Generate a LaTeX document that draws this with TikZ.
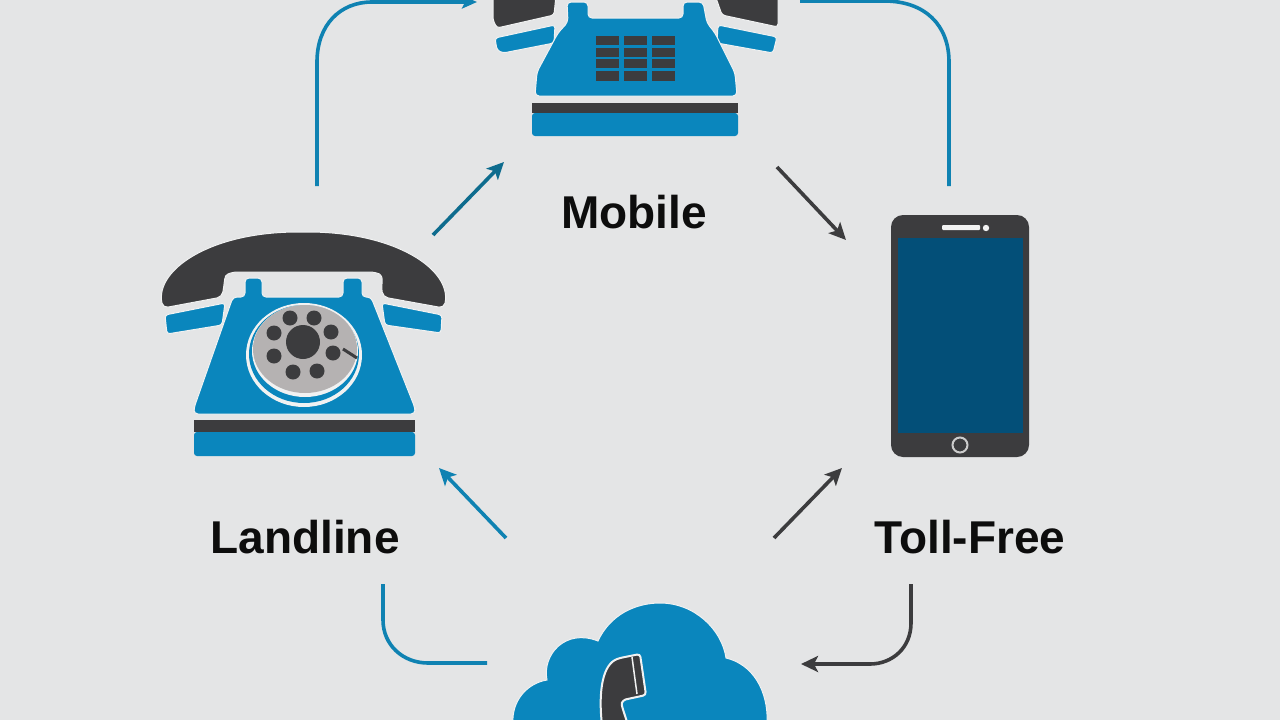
\documentclass[tikz,border=0pt]{standalone}
\usepackage{fontspec}
\setmainfont{Liberation Sans}
\usetikzlibrary{positioning}
\usetikzlibrary{arrows.meta}
\definecolor{bgrey}{HTML}{E4E5E6}
\definecolor{halo}{HTML}{F1F2F2}
\definecolor{phoneblue}{HTML}{0A86BD}
\definecolor{darkgrey}{HTML}{3C3C3E}
\definecolor{screenblue}{HTML}{034F78}
\definecolor{dialgrey}{HTML}{B5B2B2}
\definecolor{linkblue}{HTML}{0F82B2}
\definecolor{linkteal}{HTML}{0E6C8E}

\begin{document}
\begin{tikzpicture}[
    x=1pt, y=-1pt,
    labeltext/.style={font=\fontsize{46}{46}\selectfont\bfseries, text=black!95, inner sep=0pt},
    link/.style={line width=3.6pt, color=linkblue},
    arrowlink/.style={line width=3.6pt, -{Stealth[length=17pt,width=16pt,inset=4pt]}},
    bluepart/.style={fill=phoneblue, draw=halo, line width=1pt},
    darkpart/.style={fill=darkgrey, draw=halo, line width=1pt},
    hole/.style={circle, fill=darkgrey, inner sep=0pt, minimum size=15pt}
]
    \path[use as bounding box, fill=bgrey] (0,0) rectangle (1280,720);

    % Labels
    \node[labeltext] (mobile) at (634,212) {Mobile};
    \node[labeltext] (landline) at (305,537) {Landline};
    \node[labeltext] (tollfree) at (970,537) {Toll-Free};

    % Landline phone
    \path[darkpart, rounded corners=5pt] (163,308) .. controls (155,270) and (210,232) .. (303,232)
        .. controls (396,232) and (452,270) .. (444,308) -- (383,297)
        .. controls (381,285) and (384,276) .. (375,272) -- (232,272)
        .. controls (224,276) and (225,280) .. (222,297) -- cycle;
    \path[bluepart, rounded corners=3pt] (165,315) -- (225,303) -- (222,325) -- (167,334) -- cycle;
    \path[bluepart, rounded corners=3pt] (382,303) -- (442,315) -- (441,333) -- (385,325) -- cycle;
    \path[bluepart, rounded corners=4pt] (245,297) -- (245,278) -- (262,278) -- (262,297) -- (343,297)
        -- (343,278) -- (362,278) -- (362,297) -- (371,297) -- (415,408) -- (415,414)
        -- (194,414) -- (194,408) -- (233,297) -- cycle;
    \fill[halo] (304,355) ellipse (58pt and 52pt);
    \fill[phoneblue] (304,354) ellipse (55pt and 49pt);
    \fill[halo] (305,351) ellipse (53pt and 46pt);
    \fill[dialgrey] (305,349) ellipse (52pt and 44pt);
    \fill[darkgrey] (303,342) circle (17pt);
    \foreach \hx/\hy in {290/318, 314/318, 331/332, 333/353, 317/371, 293/372, 274/356, 274/333} {
        \node[hole] at (\hx,\hy) {};
    }
    \draw[darkgrey, line width=3pt] (343,349) -- (357,358);
    \fill[phoneblue, rounded corners=3pt] (194,432) rectangle (415,456);
    \fill[darkgrey] (194,420) rectangle (415,432);

    % Mobile phone (desk set, cut by the top edge)
    \path[darkpart, rounded corners=3pt] (493,-5) -- (556,-5) -- (554,15) -- (497,28) -- (493,20) -- cycle;
    \path[darkpart, rounded corners=3pt] (715,-5) -- (778,-5) -- (778,27) -- (722,15) -- cycle;
    \path[bluepart, rounded corners=3pt] (495,38) -- (555,25) -- (554,43) -- (503,53) -- (497,50) -- cycle;
    \path[bluepart, rounded corners=3pt] (718,25) -- (777,37) -- (773,53) -- (717,43) -- cycle;
    \path[bluepart, rounded corners=4pt] (567,2) -- (588,2) -- (588,18) -- (683,18) -- (683,2)
        -- (703,2) -- (707,23) -- (715,33) -- (735,73) -- (737,96) -- (535,96) -- (537,72)
        -- (558,33) -- (568,22) -- cycle;
    \foreach \cx in {596,624,652} {
        \foreach \cy/\ch in {36/8.5, 48/8.5, 59/9, 71/10} {
            \fill[darkgrey] (\cx,\cy) rectangle ++(23,\ch);
        }
    }
    \fill[phoneblue, rounded corners=3pt] (532,113) rectangle (738,136);
    \fill[darkgrey] (532,103) rectangle (738,113);

    % Smartphone
    \fill[darkgrey, rounded corners=12pt] (891,215) rectangle (1029,457);
    \fill[screenblue] (898,238) rectangle (1023,433);
    \fill[halo, rounded corners=1pt] (942,225) rectangle (980,230);
    \fill[halo] (986,228) circle (3.2pt);
    \draw[white!80!black, line width=2pt] (960,445) circle (7.5pt);

    % Cloud
    \path[bluepart] (513,725) .. controls (511,700) and (528,683) .. (547,680)
        .. controls (542,655) and (565,628) .. (598,641)
        .. controls (610,615) and (635,603) .. (660,603)
        .. controls (695,603) and (722,630) .. (726,658)
        .. controls (752,664) and (769,690) .. (767,725) -- cycle;
    \path[darkpart, line width=2pt, rounded corners=3pt] (602,725)
        .. controls (598,690) and (603,664) .. (620,658) -- (640,654) -- (646,695) -- (623,700)
        .. controls (621,705) and (624,712) .. (628,725);
    \draw[halo, line width=1.5pt] (632,657) -- (637,694);

    % Connectors
    \coordinate (lanup) at (317,186);
    \coordinate (lantop) at (477,2);
    \coordinate (mobtop) at (800,1);
    \coordinate (phtop) at (949,186);
    \coordinate (a1s) at (433,235);
    \coordinate (a1e) at (504,162);
    \coordinate (a2s) at (777,167);
    \coordinate (a2e) at (846,240);
    \coordinate (a3s) at (774,538);
    \coordinate (a3e) at (842,468);
    \coordinate (a4s) at (506,538);
    \coordinate (a4e) at (439,468);
    \coordinate (clleft) at (487,663);
    \coordinate (landn) at (383,584);
    \coordinate (tolldn) at (911,584);
    \coordinate (clright) at (801,664);

    \draw[link, -{Stealth[length=15pt,width=13pt,inset=3pt]}] (lanup) -- (317,62)
        .. controls (317,25) and (340,2) .. (372,2) -- (lantop);
    \draw[link] (mobtop) -- (884,1) .. controls (925,1) and (949,25) .. (949,62) -- (phtop);
    \draw[arrowlink, linkteal] (a1s) -- (a1e);
    \draw[arrowlink, darkgrey] (a2s) -- (a2e);
    \draw[arrowlink, darkgrey] (a3s) -- (a3e);
    \draw[arrowlink, linkblue] (a4s) -- (a4e);
    \draw[link] (landn) -- (383,620) .. controls (383,645) and (403,663) .. (428,663) -- (clleft);
    \draw[arrowlink, darkgrey] (tolldn) -- (911,623)
        .. controls (911,648) and (892,664) .. (870,664) -- (clright);
\end{tikzpicture}
\end{document}
